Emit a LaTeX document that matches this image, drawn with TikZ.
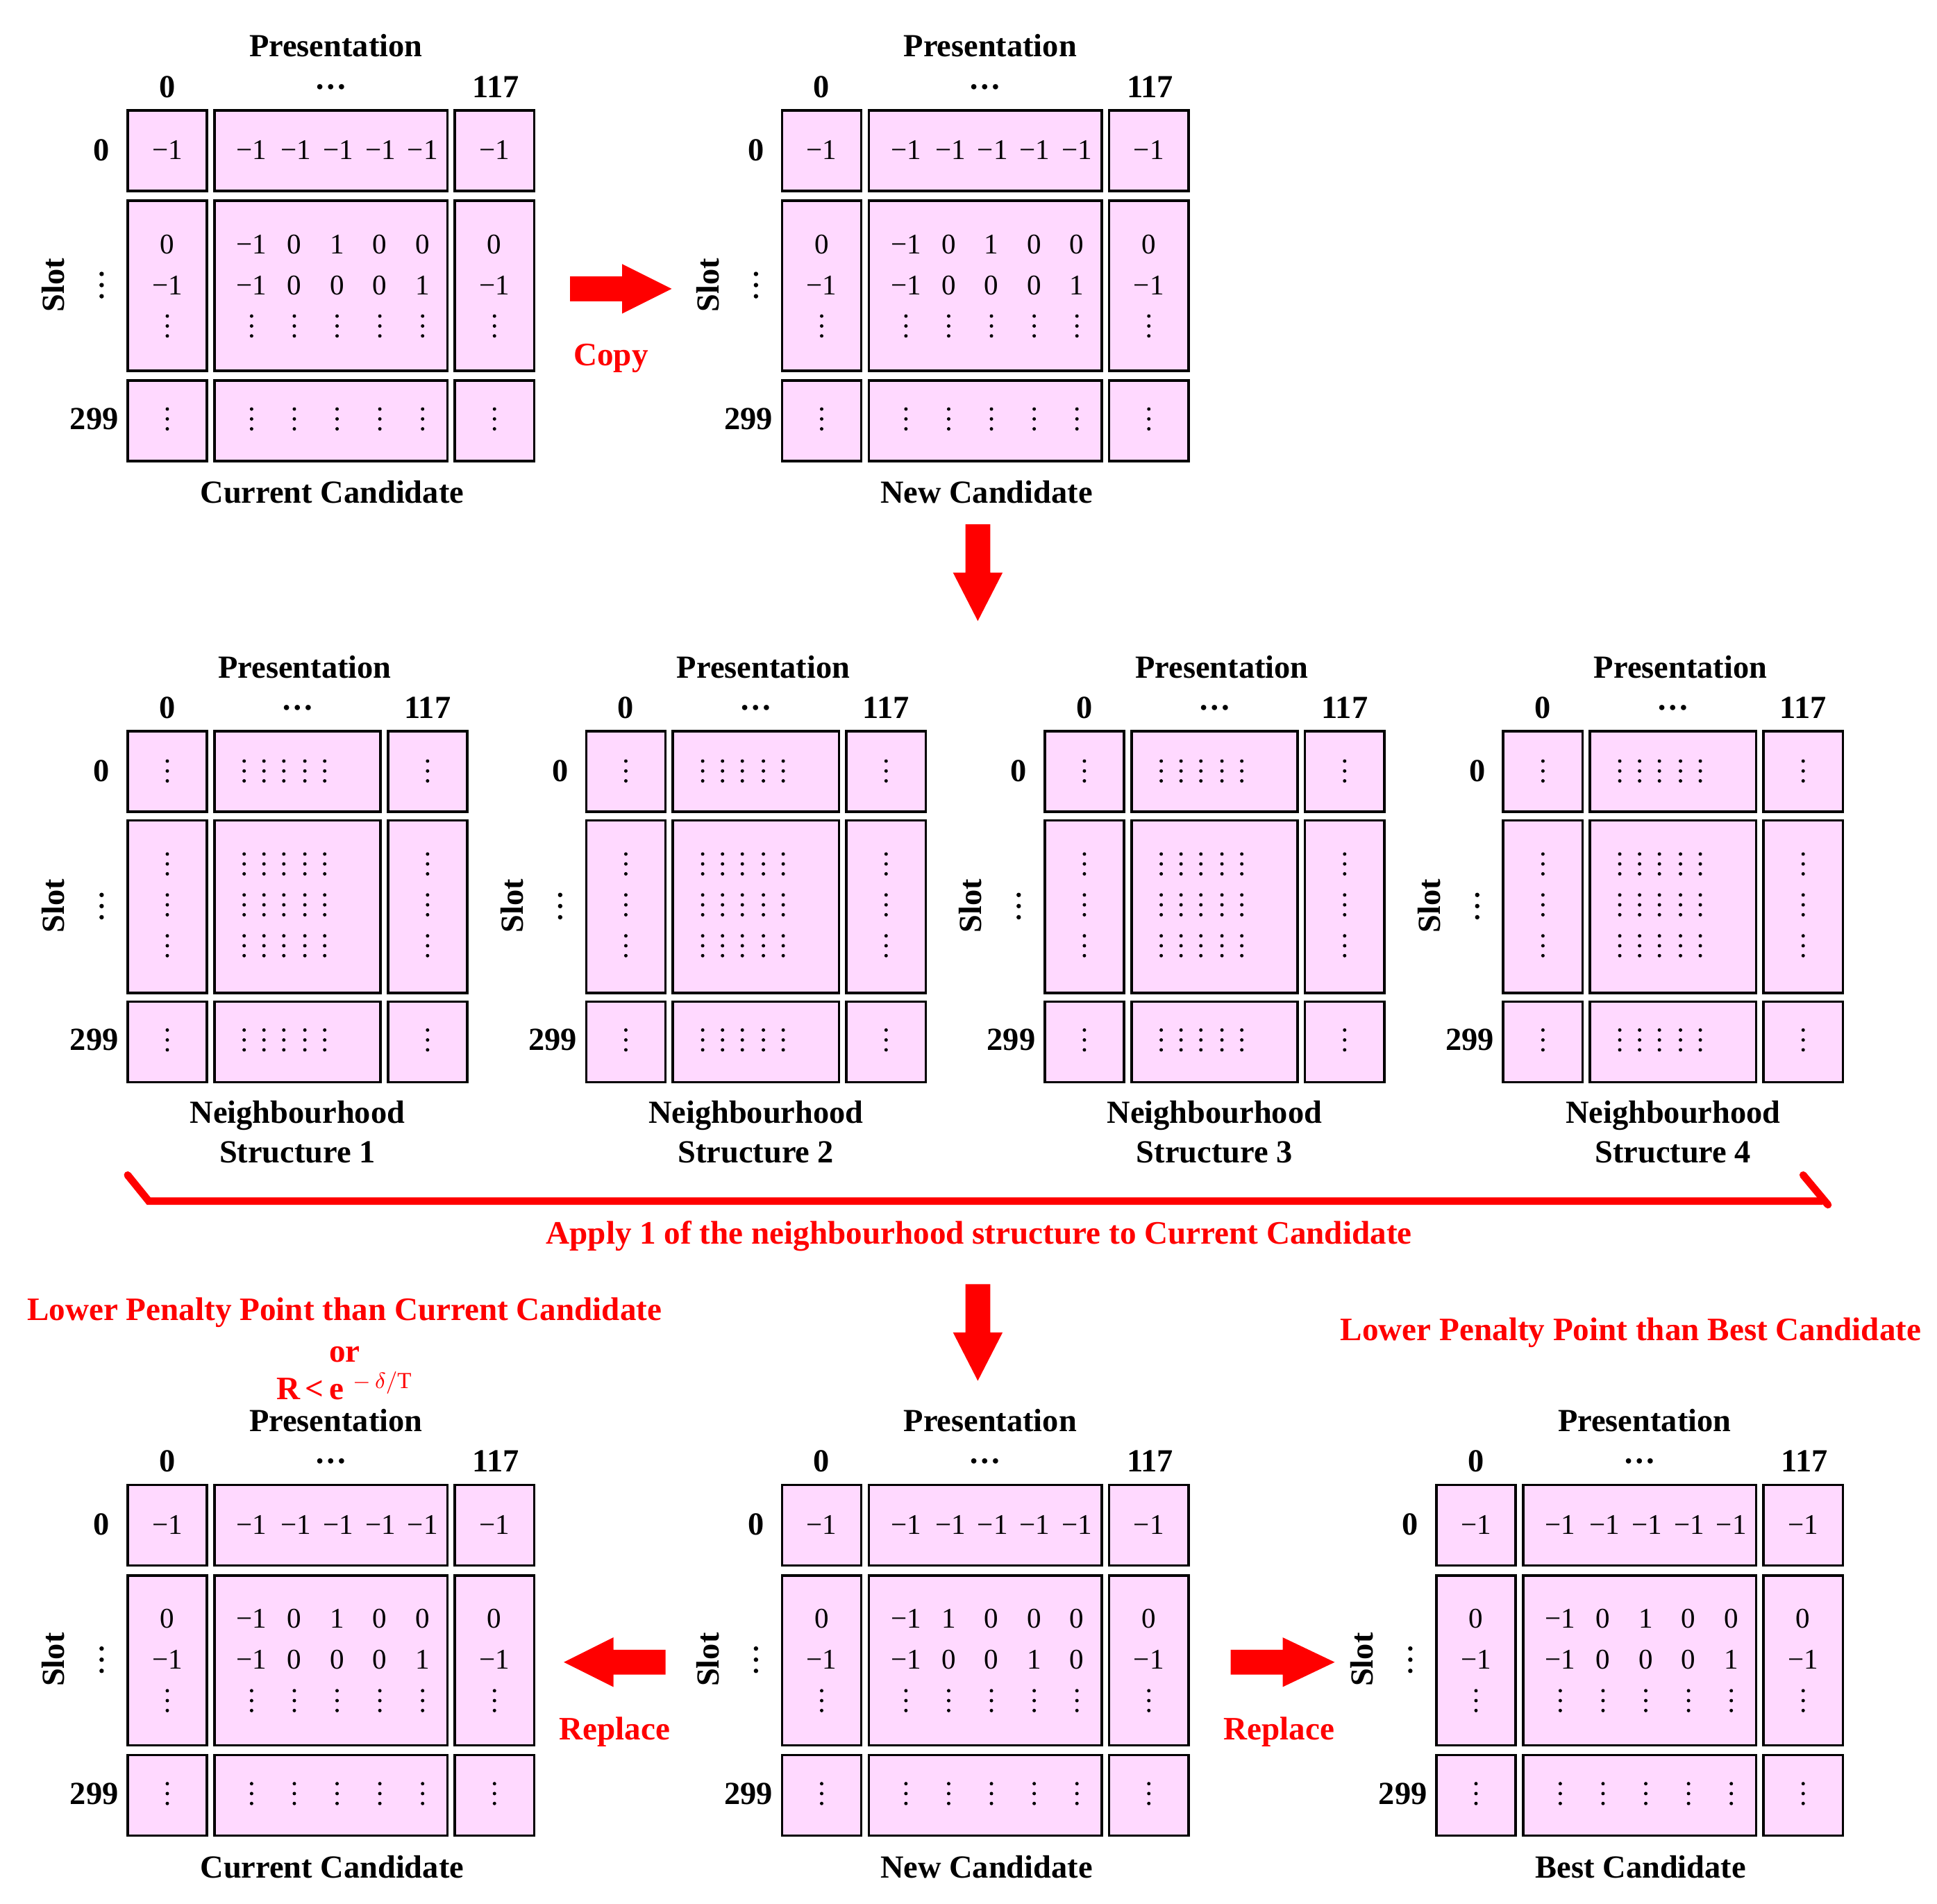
\documentclass[tikz,border=0pt]{standalone}
\usepackage{fontspec}
\setmainfont{Liberation Serif}
\usetikzlibrary{calc}
\definecolor{cellpink}{RGB}{255,217,255}
\definecolor{ared}{RGB}{255,0,0}
\tikzset{
  cell/.style={draw=black,line width=1pt,fill=cellpink},
  lbl/.style={font=\bfseries\fontsize{13}{15}\selectfont,inner sep=0pt},
  val/.style={font=\fontsize{11.5}{13}\selectfont,inner sep=0pt},
  rlbl/.style={font=\bfseries\fontsize{13.2}{15}\selectfont,text=ared,inner sep=0pt},
  barrow/.style={fill=ared,draw=none},
}
\newcommand{\DOTS}[2]{\fill (#1,#2-8) circle (1.4) (#1,#2) circle (1.4) (#1,#2+8) circle (1.4);}
\newcommand{\BDOTS}[2]{\fill (#1,#2-9) circle (1.8) (#1,#2) circle (1.8) (#1,#2+9) circle (1.8);}
% standard candidate matrix
\newcommand{\CandMat}[6]{%
\begin{scope}[shift={(#1,#2)}]
 \foreach \a/\b in {0/64,70/258,264/328}{
   \foreach \c/\d in {0/65,73/210,218/283}{\path[cell] (\a,\c) rectangle (\b,\d);}}
 \node[lbl] (#3-pres) at (168,-52) {Presentation};
 \node[lbl] at (32,-19) {0}; \node[lbl] at (164,-19) {…}; \node[lbl] at (297,-19) {117};
 \node[lbl] at (-21,32) {0}; \BDOTS{-21}{141} \node[lbl] at (-27,249) {299};
 \node[lbl,rotate=90] at (-60,141) {Slot};
 \node[val] at (32,32) {−1}; \node[val] at (296,32) {−1};
 \foreach \x in {100,136,170,204,238}{\node[val] at (\x,32) {−1};}
 \node[val] at (32,108) {0}; \node[val] at (32,141) {−1}; \DOTS{32}{174}
 \node[val] at (296,108) {0}; \node[val] at (296,141) {−1}; \DOTS{296}{174}
 \foreach \v [count=\i] in {#4}{\node[val] at ({100+34.5*(\i-1)},108) {\v};}
 \foreach \v [count=\i] in {#5}{\node[val] at ({100+34.5*(\i-1)},141) {\v};}
 \foreach \x in {100,134.5,169,203.5,238}{\DOTS{\x}{174} \DOTS{\x}{249}}
 \DOTS{32}{249} \DOTS{296}{249}
 \node[lbl] (#3-cap) at (165,308) {#6};
\end{scope}}
\newcommand{\NeighMat}[4]{%
\begin{scope}[shift={(#1,#2)}]
 \foreach \a/\b in {0/64,70/204,210/274}{
   \foreach \c/\d in {0/65,72/211,218/283}{\path[cell] (\a,\c) rectangle (\b,\d);}}
 \node[lbl] at (143,-52) {Presentation};
 \node[lbl] at (32,-19) {0}; \node[lbl] at (137,-19) {…}; \node[lbl] at (242,-19) {117};
 \node[lbl] at (-21,32) {0}; \BDOTS{-21}{141} \node[lbl] at (-27,249) {299};
 \node[lbl,rotate=90] at (-60,141) {Slot};
 \foreach \y in {32,107,140,173,249}{
   \DOTS{32}{\y} \DOTS{242}{\y}
   \foreach \x in {94,110,126,143,159}{\DOTS{\x}{\y}}}
 \node[lbl,align=center] (#3) at (137,323) {Neighbourhood\\[1pt]Structure #4};
\end{scope}}
\begin{document}
\begin{tikzpicture}[x=0.5pt,y=-0.5pt]
\useasboundingbox (0,0) rectangle (1563,1536);
% top row
\CandMat{103}{89}{cc}{−1,0,1,0,0}{−1,0,0,0,1}{Current Candidate}
\CandMat{631}{89}{nc}{−1,0,1,0,0}{−1,0,0,0,1}{New Candidate}
\path[barrow] (460,223) -- (502,223) -- (502,213) -- (542,233) -- (502,253) -- (502,243) -- (460,243) -- cycle;
\node[rlbl] (copy) at (493,289) {Copy};
\path[barrow] (779,423) -- (799,423) -- (799,462) -- (809,462) -- (789,501) -- (769,462) -- (779,462) -- cycle;
% neighbourhood row
\NeighMat{103}{590}{ns1}{1}
\NeighMat{473}{590}{ns2}{2}
\NeighMat{843}{590}{ns3}{3}
\NeighMat{1213}{590}{ns4}{4}
\coordinate (bl) at (120,969); \coordinate (br) at (1470,969);
\draw[ared,line width=3pt,line cap=round] (103,948) -- (bl) -- (br);
\draw[ared,line width=3pt,line cap=round] (1455,948) -- (1475,972);
\node[rlbl] (apply) at (790,997) {Apply 1 of the neighbourhood structure to Current Candidate};
\path[barrow] (779,1036) -- (799,1036) -- (799,1075) -- (809,1075) -- (789,1114) -- (769,1075) -- (779,1075) -- cycle;
% bottom row
\node[rlbl,align=center] (cond) at (278,1088) {Lower Penalty Point than Current Candidate\\[2pt]or\\[0pt]R\,<\,e\,$^{\,-\,\delta/\mathrm{T}}$};
\node[rlbl] (cond2) at (1316,1075) {Lower Penalty Point than Best Candidate};
\CandMat{103}{1198}{cc2}{−1,0,1,0,0}{−1,0,0,0,1}{Current Candidate}
\CandMat{631}{1198}{nc2}{−1,1,0,0,0}{−1,0,0,1,0}{New Candidate}
\CandMat{1159}{1198}{bc}{−1,0,1,0,0}{−1,0,0,0,1}{Best Candidate}
\path[barrow] (537,1331) -- (495,1331) -- (495,1321) -- (455,1341) -- (495,1361) -- (495,1351) -- (537,1351) -- cycle;
\node[rlbl] (rep1) at (496,1397) {Replace};
\path[barrow] (993,1331) -- (1035,1331) -- (1035,1321) -- (1077,1341) -- (1035,1361) -- (1035,1351) -- (993,1351) -- cycle;
\node[rlbl] (rep2) at (1032,1397) {Replace};
\end{tikzpicture}
\end{document}
